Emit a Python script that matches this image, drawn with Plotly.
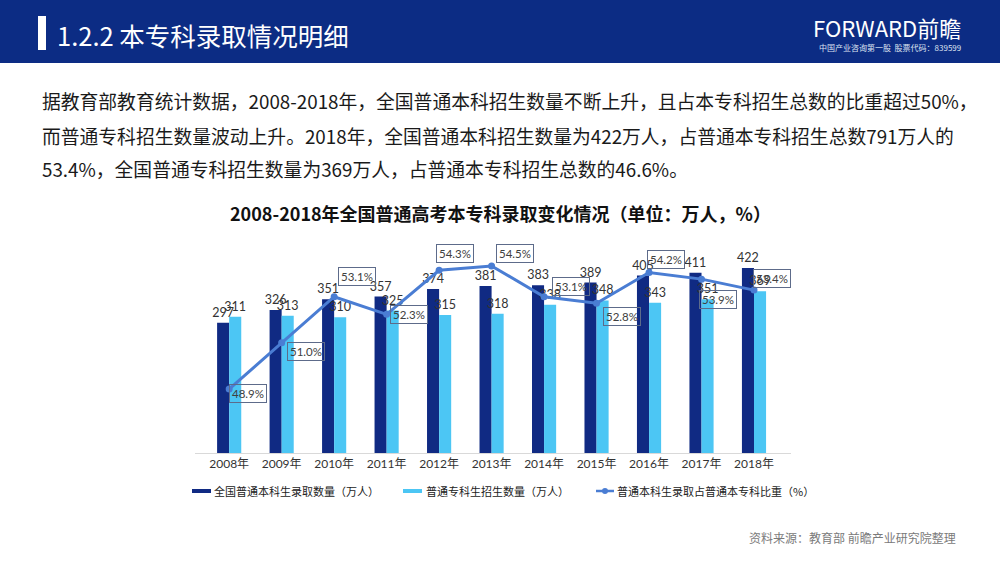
import plotly.graph_objects as go

years = ["2008年", "2009年", "2010年", "2011年", "2012年", "2013年",
         "2014年", "2015年", "2016年", "2017年", "2018年"]
bachelor = [297, 326, 351, 357, 374, 381, 383, 389, 405, 411, 422]
associate = [311, 313, 310, 325, 315, 318, 338, 348, 343, 351, 369]
ratio = [48.9, 51.0, 53.1, 52.3, 54.3, 54.5, 53.1, 52.8, 54.2, 53.9, 53.4]

# label box offsets (pixels, screen: x right, y down) - styling only
box_dx = [19, 24, 23, 22, 16, 23, 27, 25, 17, 16, 18]
box_dy = [4, 9, -20, 0, -17, -12, -10, 13, -13, 20, -12]

DARK = "#102a83"
LIGHT = "#4cc6f4"
LINE = "#4a7dd3"
FONT = "Lato, 'Noto Sans CJK SC', sans-serif"
CJK = "'Noto Sans CJK SC', sans-serif"

NAME_B = "全国普通本科生录取数量（万人）"
NAME_A = "普通专科生招生数量（万人）"
NAME_R = "普通本科生录取占普通本专科比重（%）"

fig = go.Figure()
fig.add_trace(go.Bar(
    x=years, y=bachelor, name=NAME_B,
    marker=dict(color=DARK, line=dict(width=0)),
    text=[str(v) for v in bachelor], textposition="outside", constraintext="none",
    textfont=dict(size=12.5, color="#333333", family=FONT), cliponaxis=False))
fig.add_trace(go.Bar(
    x=years, y=associate, name=NAME_A,
    marker=dict(color=LIGHT, line=dict(width=0)),
    text=[str(v) for v in associate], textposition="outside", constraintext="none",
    textfont=dict(size=12.5, color="#333333", family=FONT), cliponaxis=False))
fig.add_trace(go.Scatter(
    x=years, y=ratio, yaxis="y2", name=NAME_R,
    mode="lines+markers", line=dict(color=LINE, width=3),
    marker=dict(color=LINE, size=7), cliponaxis=False))

annotations = []
for yr, r, dx, dy in zip(years, ratio, box_dx, box_dy):
    annotations.append(dict(
        x=yr, y=r, xref="x", yref="y2", text=f"{r:.1f}%", showarrow=False,
        xshift=dx, yshift=-dy, font=dict(size=11.5, color="#404040", family=FONT),
        bordercolor="#5d6b8a", borderwidth=1, borderpad=2,
        bgcolor="rgba(255,255,255,0)"))

L, R, T, B = 195, 209, 240, 110
pw = 1000 - L - R
ph = 563 - T - B
def px(x):
    return (x - L) / pw
def py(y):
    return (563 - B - y) / ph

header_ann = [
    dict(x=px(55), y=py(34), text="1.2.2 本专科录取情况明细", xanchor="left",
         font=dict(size=25.5, color="white", family=CJK)),
    dict(x=px(963), y=py(27), text="FORWARD前瞻", xanchor="right",
         font=dict(size=22, color="white", family="'Noto Sans CJK SC', Lato, sans-serif")),
    dict(x=px(963), y=py(47), text="中国产业咨询第一股  股票代码：839599", xanchor="right",
         font=dict(size=8, color="#dde3f0", family=CJK)),
    dict(x=px(500), y=py(213), text="<b>2008-2018年全国普通高考本专科录取变化情况（单位：万人，%）</b>",
         xanchor="center", font=dict(size=18, color="#111111", family=CJK)),
    dict(x=px(40), y=py(101), text="据教育部教育统计数据，2008-2018年，全国普通本科招生数量不断上升，且占本专科招生总数的比重超过50%，",
         xanchor="left", font=dict(size=18.8, color="#1a1a1a", family=CJK)),
    dict(x=px(40), y=py(135), text="而普通专科招生数量波动上升。2018年，全国普通本科招生数量为422万人，占普通本专科招生总数791万人的",
         xanchor="left", font=dict(size=18.8, color="#1a1a1a", family=CJK)),
    dict(x=px(40), y=py(168), text="53.4%，全国普通专科招生数量为369万人，占普通本专科招生总数的46.6%。",
         xanchor="left", font=dict(size=18.8, color="#1a1a1a", family=CJK)),
    dict(x=px(958), y=py(537), text="资料来源：教育部 前瞻产业研究院整理", xanchor="right",
         font=dict(size=12, color="#7a7a7a", family=CJK)),
    # legend labels
    dict(x=px(212), y=py(491), text=NAME_B, xanchor="left",
         font=dict(size=11, color="#222222", family=CJK)),
    dict(x=px(424), y=py(491), text=NAME_A, xanchor="left",
         font=dict(size=11, color="#222222", family=CJK)),
    dict(x=px(615), y=py(491), text=NAME_R, xanchor="left",
         font=dict(size=11, color="#222222", family=CJK)),
]
for a in header_ann:
    a.update(xref="paper", yref="paper", showarrow=False, yanchor="middle")

fig.update_layout(
    width=1000, height=563,
    margin=dict(l=L, r=R, t=T, b=B),
    paper_bgcolor="white", plot_bgcolor="white",
    barmode="group", bargap=0.54, bargroupgap=0,
    font=dict(family=FONT, color="#333333"),
    xaxis=dict(showline=True, linecolor="#d9d9d9", linewidth=1, ticks="",
               tickfont=dict(size=12, color="#333333", family=FONT),
               showgrid=False, fixedrange=True),
    yaxis=dict(visible=False, range=[0, 486], showgrid=False),
    yaxis2=dict(visible=False, range=[45.99, 55.68], overlaying="y",
                side="right", showgrid=False),
    showlegend=False,
    annotations=annotations + header_ann,
)

shapes = [
    # header band and accent bar
    dict(type="rect", x0=px(0), x1=px(1000), y0=py(0), y1=py(63),
         fillcolor="#0c2c84", line=dict(width=0), layer="below"),
    dict(type="rect", x0=px(38), x1=px(46), y0=py(16), y1=py(50),
         fillcolor="white", line=dict(width=0), layer="above"),
    # legend swatches
    dict(type="rect", x0=px(192), x1=px(211), y0=py(489), y1=py(493),
         fillcolor=DARK, line=dict(width=0)),
    dict(type="rect", x0=px(403), x1=px(422), y0=py(489), y1=py(493),
         fillcolor=LIGHT, line=dict(width=0)),
    dict(type="line", x0=px(596), x1=px(614), y0=py(491), y1=py(491),
         line=dict(color=LINE, width=2.5)),
    dict(type="circle", x0=px(602), x1=px(608), y0=py(488), y1=py(494),
         fillcolor=LINE, line=dict(width=0)),
]
for s in shapes:
    s.update(xref="paper", yref="paper")
fig.update_layout(shapes=shapes)

fig.write_html("out.html")
